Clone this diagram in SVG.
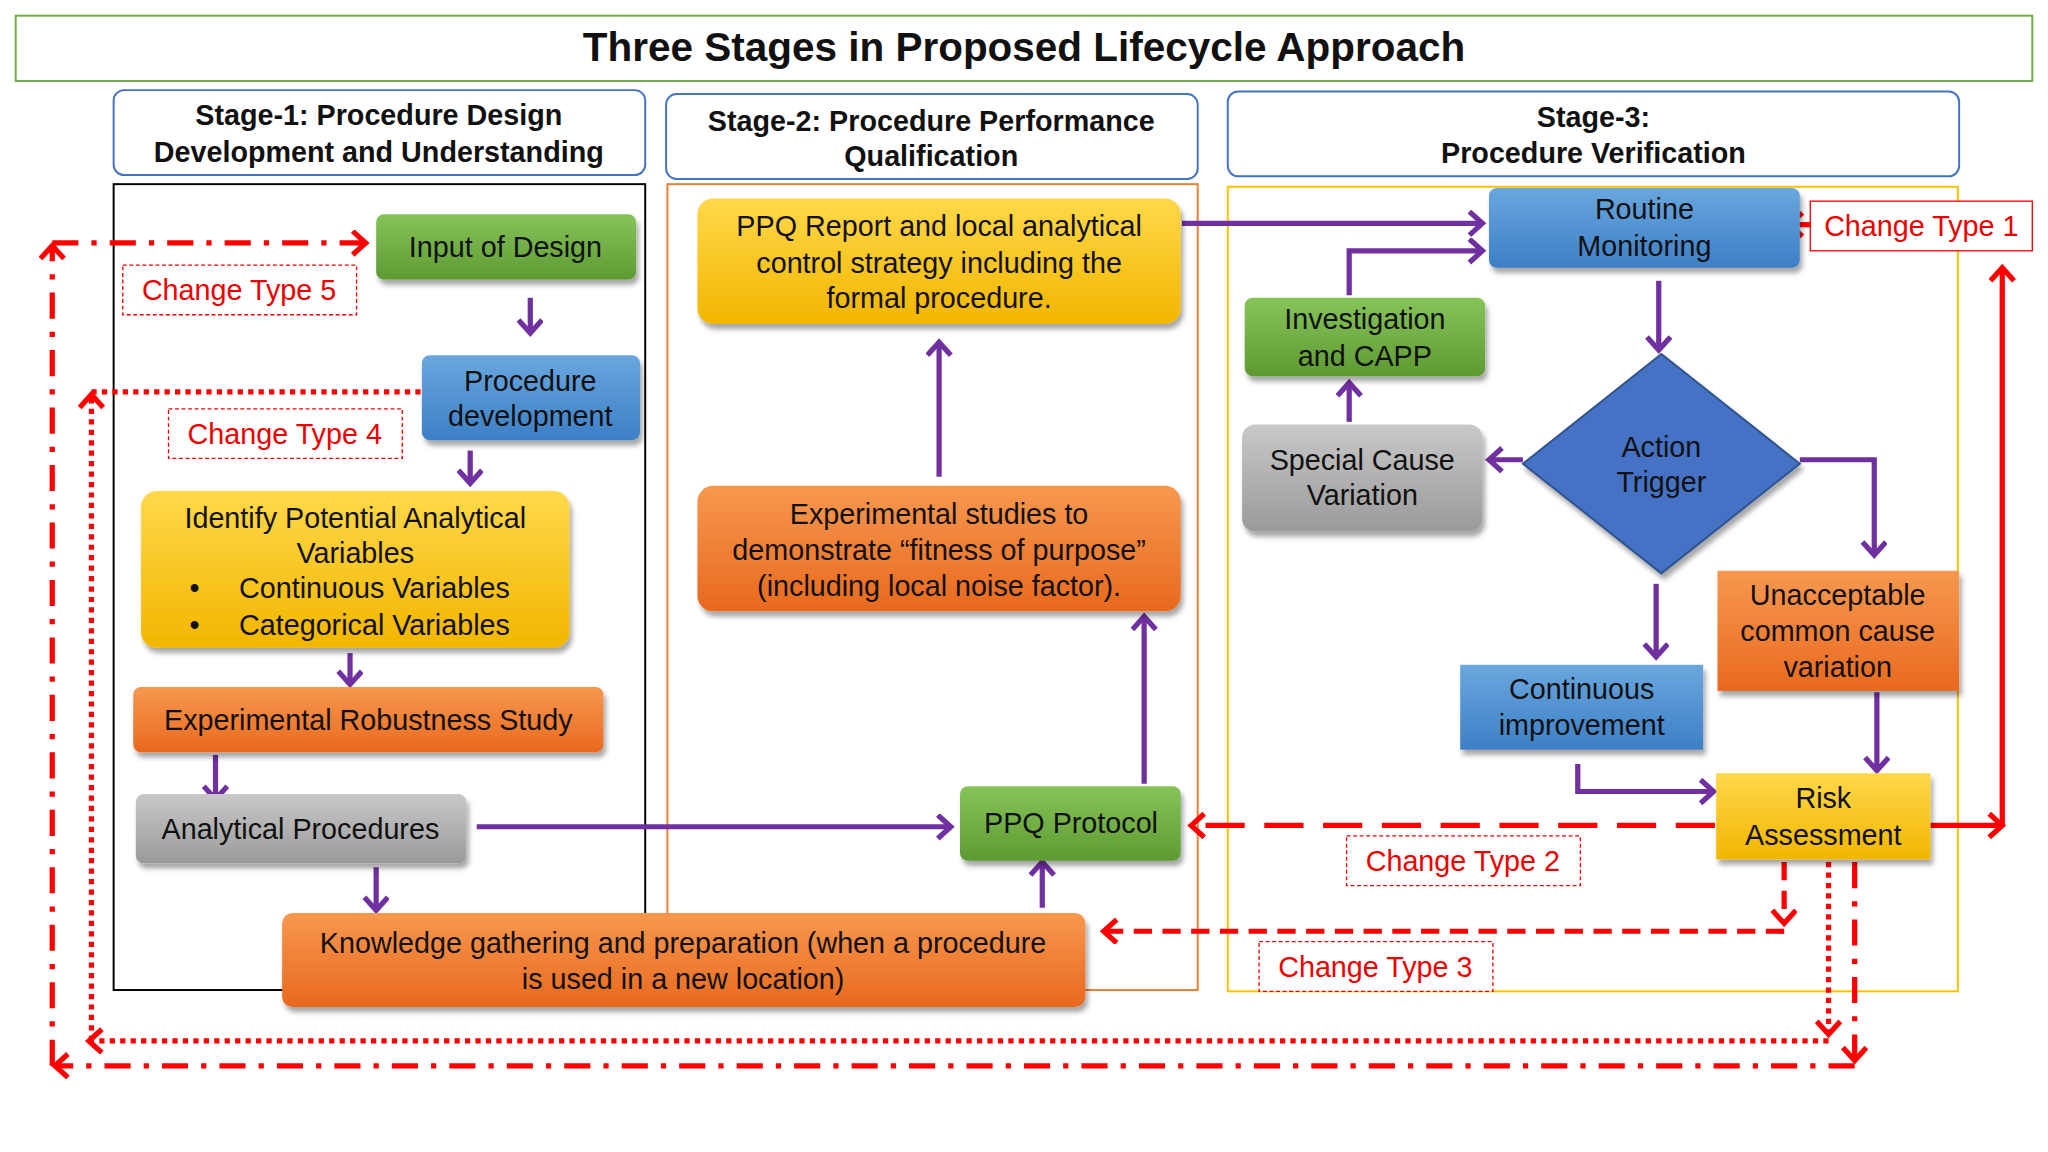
<svg xmlns="http://www.w3.org/2000/svg" width="2048" height="1152" viewBox="0 0 2048 1152">
<style>
text{font-family:"Liberation Sans",Arial,sans-serif;fill:#111}
.n{font-size:22px;text-anchor:middle}
.h{font-size:22px;font-weight:bold;text-anchor:middle}
.ct{font-size:22px;fill:#e00;text-anchor:middle}
.ctb{fill:#fff;stroke:#e00;stroke-width:1;stroke-dasharray:3 2}
.p{stroke:#7030A0;stroke-width:4;fill:none;marker-end:url(#pa)}
.r{stroke:#f00;stroke-width:4;fill:none;marker-end:url(#ra)}
.sh{filter:url(#sh)}
</style>
<defs>
<marker id="pa" markerUnits="userSpaceOnUse" markerWidth="24" markerHeight="24" refX="12" refY="10" orient="auto"><path d="M2,1 L12,10 L2,19" fill="none" stroke="#7030A0" stroke-width="4"/></marker>
<marker id="ra" markerUnits="userSpaceOnUse" markerWidth="24" markerHeight="24" refX="12" refY="10" orient="auto"><path d="M2,1 L12,10 L2,19" fill="none" stroke="#f00" stroke-width="4"/></marker>
<filter id="sh" x="-10%" y="-10%" width="130%" height="140%"><feDropShadow dx="2" dy="4" stdDeviation="2" flood-color="#000" flood-opacity="0.35"/></filter>
<linearGradient id="gG" x1="0" y1="0" x2="0" y2="1"><stop offset="0" stop-color="#86c45a"/><stop offset="1" stop-color="#5e9a32"/></linearGradient>
<linearGradient id="gB" x1="0" y1="0" x2="0" y2="1"><stop offset="0" stop-color="#6aa7de"/><stop offset="1" stop-color="#3d7fc6"/></linearGradient>
<linearGradient id="gY" x1="0" y1="0" x2="0" y2="1"><stop offset="0" stop-color="#ffd84a"/><stop offset="1" stop-color="#f2b600"/></linearGradient>
<linearGradient id="gO" x1="0" y1="0" x2="0" y2="1"><stop offset="0" stop-color="#f7984f"/><stop offset="1" stop-color="#e8691e"/></linearGradient>
<linearGradient id="gR" x1="0" y1="0" x2="0" y2="1"><stop offset="0" stop-color="#c8c8c8"/><stop offset="1" stop-color="#9a9a9a"/></linearGradient>
</defs>
<rect width="2048" height="1152" fill="#fff"/>
<g transform="scale(1.3061)">
<g id="title"><rect x="12" y="12" width="1544" height="50" fill="#fff" stroke="#70ad47" stroke-width="1.5"/><text x="784" y="47" style="font-size:31px;font-weight:bold;text-anchor:middle">Three Stages in Proposed Lifecycle Approach</text></g>
<g id="containers">
<rect x="87" y="141" width="407" height="617" fill="none" stroke="#000" stroke-width="1.5"/>
<rect x="511" y="141" width="406" height="617" fill="none" stroke="#ed7d31" stroke-width="1.5"/>
<rect x="940" y="143" width="559" height="616" fill="none" stroke="#ffc000" stroke-width="1.5"/>
</g>
<g id="stage1"><rect x="87" y="69" width="407" height="65" rx="8" fill="#fff" stroke="#4472c4" stroke-width="1.5"/><text class="h" x="290" y="96">Stage-1: Procedure Design</text><text class="h" x="290" y="124">Development and Understanding</text></g>
<g id="stage2"><rect x="510" y="72" width="407" height="65" rx="8" fill="#fff" stroke="#4472c4" stroke-width="1.5"/><text class="h" x="713" y="100">Stage-2: Procedure Performance</text><text class="h" x="713" y="127">Qualification</text></g>
<g id="stage3"><rect x="940" y="70" width="560" height="65" rx="8" fill="#fff" stroke="#4472c4" stroke-width="1.5"/><text class="h" x="1220" y="97">Stage-3:</text><text class="h" x="1220" y="125">Procedure Verification</text></g>

<g id="connectors">
<path class="p" d="M406,228 V255"/>
<path class="p" d="M360,345 V370"/>
<path class="p" d="M268,500 V524"/>
<path class="p" d="M165,578 V612"/>
<path class="p" d="M288,664 V697"/>
<path class="p" d="M365,633 H728"/>
<path class="p" d="M798,695 V660"/>
<path class="p" d="M876,600 V472"/>
<path class="p" d="M719,365 V262"/>
<path class="p" d="M905,171 H1135"/>
<path class="p" d="M1033,226 V192 H1135"/>
<path class="p" d="M1033,323 V293"/>
<path class="p" d="M1166,352 H1140"/>
<path class="p" d="M1270,215 V268"/>
<path class="p" d="M1378,352 H1435 V425"/>
<path class="p" d="M1268,447 V503"/>
<path class="p" d="M1437,530 V590"/>
<path class="p" d="M1208,585 V606 H1312"/>
<path class="r" d="M1313,632 H912" stroke-dasharray="30 15"/>
<path class="r" d="M1478,632 H1533"/>
<path class="r" d="M1533,632 V205"/>
<path class="r" d="M1388,172 H1370"/>
<path class="r" d="M1366,660 V707" stroke-dasharray="14 8"/>
<path class="r" d="M1366,713 H845" stroke-dasharray="14 8"/>
<path class="r" d="M1400,660 V792" stroke-dasharray="4 4"/>
<path class="r" d="M1400,797 H68" stroke-dasharray="4 4"/>
<path class="r" d="M70,797 V302" stroke-dasharray="4 4"/>
<path class="r" d="M70,300 H337" stroke-dasharray="4 4"/>
<path class="r" d="M1420,660 V812" stroke-dasharray="20 10 4 10"/>
<path class="r" d="M1420,816 H42" stroke-dasharray="20 10 4 10"/>
<path class="r" d="M40,816 V188" stroke-dasharray="20 10 4 10"/>
<path class="r" d="M40,186 H280" stroke-dasharray="20 10 4 10"/>
</g>

<g id="input"><rect class="sh" x="288" y="164" width="199" height="50" rx="6" fill="url(#gG)"/><text class="n" x="387" y="197">Input of Design</text></g>
<g id="procdev"><rect class="sh" x="323" y="272" width="167" height="65" rx="6" fill="url(#gB)"/><text class="n" x="406" y="299">Procedure</text><text class="n" x="406" y="326">development</text></g>
<g id="identify"><rect class="sh" x="108" y="376" width="328" height="120" rx="12" fill="url(#gY)"/><text class="n" x="272" y="404">Identify Potential Analytical</text><text class="n" x="272" y="431">Variables</text><text x="145" y="458" style="font-size:22px">•</text><text x="183" y="458" style="font-size:22px">Continuous Variables</text><text x="145" y="486" style="font-size:22px">•</text><text x="183" y="486" style="font-size:22px">Categorical Variables</text></g>
<g id="robust"><rect class="sh" x="102" y="526" width="360" height="50" rx="6" fill="url(#gO)"/><text class="n" x="282" y="559">Experimental Robustness Study</text></g>
<g id="analytical"><rect class="sh" x="104" y="608" width="253" height="53" rx="6" fill="url(#gR)"/><text class="n" x="230" y="642">Analytical Procedures</text></g>
<g id="knowledge"><rect class="sh" x="216" y="699" width="615" height="72" rx="8" fill="url(#gO)"/><text class="n" x="523" y="730">Knowledge gathering and preparation (when a procedure</text><text class="n" x="523" y="757">is used in a new location)</text></g>
<g id="ppqreport"><rect class="sh" x="534" y="152" width="370" height="96" rx="12" fill="url(#gY)"/><text class="n" x="719" y="181">PPQ Report and local analytical</text><text class="n" x="719" y="209">control strategy including the</text><text class="n" x="719" y="236">formal procedure.</text></g>
<g id="expstudies"><rect class="sh" x="534" y="372" width="370" height="96" rx="12" fill="url(#gO)"/><text class="n" x="719" y="401">Experimental studies to</text><text class="n" x="719" y="429">demonstrate “fitness of purpose”</text><text class="n" x="719" y="456">(including local noise factor).</text></g>
<g id="ppqprotocol"><rect class="sh" x="735" y="602" width="169" height="57" rx="6" fill="url(#gG)"/><text class="n" x="820" y="638">PPQ Protocol</text></g>
<g id="routine"><rect class="sh" x="1140" y="144" width="238" height="61" rx="6" fill="url(#gB)"/><text class="n" x="1259" y="168">Routine</text><text class="n" x="1259" y="196">Monitoring</text></g>
<g id="investigation"><rect class="sh" x="953" y="228" width="184" height="60" rx="6" fill="url(#gG)"/><text class="n" x="1045" y="252">Investigation</text><text class="n" x="1045" y="280">and CAPP</text></g>
<g id="special"><rect class="sh" x="951" y="325" width="184" height="82" rx="10" fill="url(#gR)"/><text class="n" x="1043" y="360">Special Cause</text><text class="n" x="1043" y="387">Variation</text></g>
<g id="trigger"><path class="sh" d="M1272,271 L1378,355 L1272,439 L1166,355 Z" fill="#4472c4" stroke="#2f528f" stroke-width="1.5"/><text class="n" x="1272" y="350">Action</text><text class="n" x="1272" y="377">Trigger</text></g>
<g id="unacceptable"><rect class="sh" x="1315" y="437" width="185" height="92" fill="url(#gO)"/><text class="n" x="1407" y="463">Unacceptable</text><text class="n" x="1407" y="491">common cause</text><text class="n" x="1407" y="518">variation</text></g>
<g id="continuous"><rect class="sh" x="1118" y="509" width="186" height="65" fill="url(#gB)"/><text class="n" x="1211" y="535">Continuous</text><text class="n" x="1211" y="563">improvement</text></g>
<g id="risk"><rect class="sh" x="1314" y="592" width="164" height="66" fill="url(#gY)"/><text class="n" x="1396" y="619">Risk</text><text class="n" x="1396" y="647">Assessment</text></g>

<g id="ct5"><rect class="ctb" x="94" y="203" width="179" height="38"/><text class="ct" x="183" y="230">Change Type 5</text></g>
<g id="ct4"><rect class="ctb" x="129" y="313" width="179" height="38"/><text class="ct" x="218" y="340">Change Type 4</text></g>
<g id="ct1"><rect class="ctb" x="1386" y="154" width="170" height="38" style="stroke-dasharray:none"/><text class="ct" x="1471" y="181">Change Type 1</text></g>
<g id="ct2"><rect class="ctb" x="1031" y="640" width="179" height="38"/><text class="ct" x="1120" y="667">Change Type 2</text></g>
<g id="ct3"><rect class="ctb" x="964" y="721" width="179" height="38"/><text class="ct" x="1053" y="748">Change Type 3</text></g>
</g>
</svg>
